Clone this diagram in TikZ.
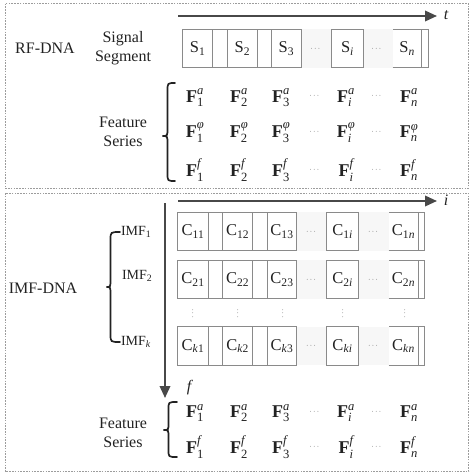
\documentclass[tikz,border=0pt]{standalone}
\usepackage{amsmath}
\usepackage{fontspec}
\setmainfont{Liberation Serif}
\usetikzlibrary{arrows.meta}
\definecolor{boxline}{HTML}{8A8A8A}
\definecolor{arrowc}{HTML}{484848}
\definecolor{dashc}{HTML}{9C9C9C}
\definecolor{inkc}{HTML}{222222}
\newcommand{\Fsym}[2]{$\text{\bfseries F}^{\text{\itshape #1}}_{\text{#2}}$}
\begin{document}
\begin{tikzpicture}[x=1pt,y=-1pt,
  txt/.style={inner sep=0pt,outer sep=0pt,text=inkc},
  lab/.style={txt,font=\fontsize{16}{19}\selectfont,align=center},
  ital/.style={txt,font=\fontsize{16}{16}\selectfont\itshape},
  imf/.style={txt,font=\fontsize{14}{14}\selectfont,anchor=west},
  fsym/.style={txt,font=\fontsize{18}{18}\selectfont,anchor=base},
  hdots/.style={txt,font=\fontsize{7}{7}\selectfont},
  vdotsn/.style={txt,font=\fontsize{7}{7}\selectfont,rotate=90},
  cell/.style={draw=boxline,line width=0.8pt,fill=white,inner sep=0pt,outer sep=0pt,minimum height=38.4pt,text=inkc,font=\fontsize{16.5}{16.5}\selectfont},
  gapcell/.style={cell},
  opencell/.style={cell,draw=none},
  boxl/.style={draw=boxline,line width=0.8pt},
  band/.style={fill=gray!6},
  frame/.style={draw=dashc,line width=0.9pt,dash pattern=on 1.6pt off 1.2pt},
  axis/.style={draw=arrowc,line width=2pt,-{Triangle[length=12pt,width=10.5pt]}},
  bracel/.style={draw=inkc,line width=1.7pt,line cap=round}
]
\useasboundingbox (0,0) rectangle (474,474);

% frames
\draw[frame] (5,3.5) rectangle (468.5,188);
\draw[frame] (5,193) rectangle (468.5,471.5);

% ---------------- RF-DNA part ----------------
\node[lab] (rf) at (45,48) {RF-DNA};
\node[lab] (sig) at (123,48.5) {Signal\\Segment};
\node[lab] (fs1) at (123,131.5) {Feature\\Series};

\coordinate (ta) at (178,16);
\coordinate (tb) at (437,16);
\draw[axis] (ta) -- (tb);
\node[ital] (tl) at (446,15.5) {t};

\fill[band] (182.7,29.3) rectangle (428.3,67.7);
\node[cell,minimum width=30pt] (s1) at (197.7,48.5) {S$_{\text{1}}$};
\node[gapcell,minimum width=14.6pt] (sg1) at (220,48.5) {};
\node[cell,minimum width=30pt] (s2) at (242.3,48.5) {S$_{\text{2}}$};
\node[gapcell,minimum width=14.4pt] (sg2) at (264.5,48.5) {};
\node[cell,minimum width=29.3pt] (s3) at (286.35,48.5) {S$_{\text{3}}$};
\node[hdots] (sd1) at (316,48.5) {$\cdots$};
\node[cell,minimum width=32.4pt] (si) at (347.5,48.5) {S$_{\text{\itshape i}}$};
\node[hdots] (sd2) at (377,48.5) {$\cdots$};
\node[opencell,minimum width=29pt] (sn) at (407.2,48.5) {S$_{\text{\itshape n}}$};
\draw[boxl] (sn.south west) -- (sn.south east) -- (sn.north east) -- (sn.north west);
\node[gapcell,minimum width=6.6pt] (sst) at (425,48.5) {};

% feature brace (top)
\draw[bracel] (175,83) .. controls (167.5,83) .. (167.5,91) -- (167.5,128)
  .. controls (167.5,136) .. (162.5,136) .. controls (167.5,136) .. (167.5,144)
  -- (167.5,173) .. controls (167.5,181) .. (175,181);

\foreach \nm/\sp/\yb in {a/a/102, p/φ/137.5, f/f/176}{
  \node[fsym] (f\nm1) at (195,\yb) {\Fsym{\sp}{1}};
  \node[fsym] (f\nm2) at (239,\yb) {\Fsym{\sp}{2}};
  \node[fsym] (f\nm3) at (281,\yb) {\Fsym{\sp}{3}};
  \node[hdots] (f\nm d1) at (315,\yb-6) {$\cdots$};
  \node[fsym] (f\nm i) at (346,\yb) {\Fsym{\sp}{\itshape i}};
  \node[hdots] (f\nm d2) at (377,\yb-6) {$\cdots$};
  \node[fsym] (f\nm n) at (409,\yb) {\Fsym{\sp}{\itshape n}};
}

% ---------------- IMF-DNA part ----------------
\node[lab] (imfdna) at (43,288) {IMF-DNA};

\coordinate (ia) at (178,201);
\coordinate (ib) at (437,201);
\draw[axis] (ia) -- (ib);
\node[ital] (il) at (446,200) {i};

\coordinate (fa) at (165,203);
\coordinate (fb) at (165,398);
\draw[axis] (fa) -- (fb);
\node[ital] (fl) at (189,388) {f};

\node[imf] (imf1) at (121,232) {IMF$_{\text{1}}$};
\node[imf] (imf2) at (122,276) {IMF$_{\text{2}}$};
\node[imf] (imfk) at (121,342) {IMF$_{\text{\itshape k}}$};

\draw[bracel] (120,232) .. controls (110.5,232) .. (110.5,240) -- (110.5,279)
  .. controls (110.5,287) .. (106.5,287) .. controls (110.5,287) .. (110.5,295)
  -- (110.5,334) .. controls (110.5,342) .. (120,342);

\foreach \rw/\yy/\rs in {1/231.6/1, 2/279.4/2, k/346/\textit{k}}{
  \fill[band] (177.7,\yy-19.2) rectangle (424.2,\yy+19.2);
  \node[cell,minimum width=30.6pt] (c\rw1) at (193,\yy) {C$_{\text{\rs 1}}$};
  \node[gapcell,minimum width=14.4pt] (cg\rw1) at (215.5,\yy) {};
  \node[cell,minimum width=30pt] (c\rw2) at (237.7,\yy) {C$_{\text{\rs 2}}$};
  \node[gapcell,minimum width=14.6pt] (cg\rw2) at (260,\yy) {};
  \node[cell,minimum width=29.4pt] (c\rw3) at (282,\yy) {C$_{\text{\rs 3}}$};
  \node[hdots] (cd\rw1) at (311.7,\yy) {$\cdots$};
  \node[cell,minimum width=32.4pt] (c\rw i) at (342.5,\yy) {C$_{\text{\rs\textit{i}}}$};
  \node[hdots] (cd\rw2) at (373.7,\yy) {$\cdots$};
  \node[opencell,minimum width=30pt] (c\rw n) at (403.5,\yy) {C$_{\text{\rs\textit{n}}}$};
  \draw[boxl] (c\rw n.south west) -- (c\rw n.south east) -- (c\rw n.north east) -- (c\rw n.north west);
  \node[gapcell,minimum width=5.7pt] (cst\rw) at (421.35,\yy) {};
}

\foreach \xx/\nm in {193/1, 238/2, 283/3, 343/i, 405/n}{
  \node[vdotsn] (vd\nm) at (\xx,313) {$\cdots$};
}

% lower feature series
\node[lab] (fs2) at (123,432.5) {Feature\\Series};
\draw[bracel] (177,402) .. controls (168.5,402) .. (168.5,409) -- (168.5,423)
  .. controls (168.5,430) .. (163.5,430) .. controls (168.5,430) .. (168.5,437)
  -- (168.5,450) .. controls (168.5,457) .. (177,457);

\foreach \nm/\sp/\yb in {la/a/417.5, lf/f/453}{
  \node[fsym] (f\nm1) at (195,\yb) {\Fsym{\sp}{1}};
  \node[fsym] (f\nm2) at (239,\yb) {\Fsym{\sp}{2}};
  \node[fsym] (f\nm3) at (281,\yb) {\Fsym{\sp}{3}};
  \node[hdots] (f\nm d1) at (315,\yb-6) {$\cdots$};
  \node[fsym] (f\nm i) at (346,\yb) {\Fsym{\sp}{\itshape i}};
  \node[hdots] (f\nm d2) at (377,\yb-6) {$\cdots$};
  \node[fsym] (f\nm n) at (409,\yb) {\Fsym{\sp}{\itshape n}};
}
\end{tikzpicture}
\end{document}
